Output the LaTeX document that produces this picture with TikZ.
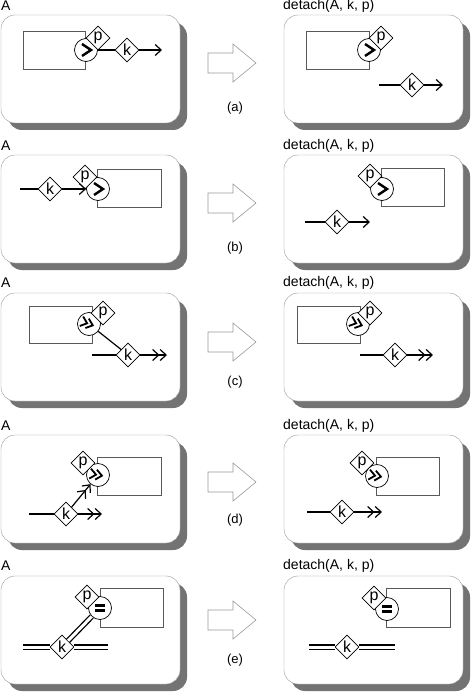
\documentclass[tikz,border=0pt]{standalone}
\usepackage{fontspec}
\setmainfont{Liberation Sans}
\usetikzlibrary{arrows.meta,shapes.geometric,shadows}

\begin{document}
\begin{tikzpicture}[x=1pt,y=-1pt,
    panel/.style={draw=gray!80,fill=white,rounded corners=14pt,minimum width=179,minimum height=108,
      drop shadow={shadow xshift=7pt,shadow yshift=-7pt,fill=black!55,opacity=1,fill opacity=1}},
    part/.style={draw=black!65,line width=0.6pt,inner sep=0pt},
    port/.style={draw,circle,fill=white,line width=0.7pt,minimum size=23,inner sep=0pt},
    keybox/.style={draw,diamond,fill=white,line width=0.7pt,minimum size=24,inner sep=0pt,font=\fontsize{16}{16}\selectfont},
    hdr/.style={anchor=west,inner sep=0pt,font=\fontsize{14}{16}\selectfont},
    caplbl/.style={inner sep=0pt,font=\fontsize{13}{15}\selectfont},
    link/.style={line width=1.2pt},
    flow/.style={link,-{Straight Barb[length=6pt,width=11pt]}},
    flow2/.style={link,-{Straight Barb[length=6pt,width=11pt]Straight Barb[length=6pt,width=11pt]}},
    dbl/.style={line width=1.3pt,double,double distance=3pt},
    sym/.style={line width=2.4pt},
    sym2/.style={line width=1.8pt},
    bigarrow/.style={draw=gray!80,fill=white,line width=0.6pt,line join=miter}
]
\useasboundingbox (0,0) rectangle (474,695);

% ---- (a) ----
\begin{scope}[shift={(0,15)}]
\node[hdr] (ta) at (1,-9) {A};
\node[hdr] (da) at (283,-9) {detach(A, k, p)};
\node[panel] (la) at (90.5,54) {};
\node[panel] (ra) at (373.5,54) {};
\draw[bigarrow] (208,38) -- (233,38) -- (233,29) -- (256,48) -- (233,67) -- (233,58) -- (208,58) -- cycle;
\node[caplbl] (sa) at (235,93) {(a)};
% before
\node[part,minimum width=62,minimum height=38] (ca) at (54,35) {};
\coordinate (a1) at (162,35);
\node[port] (pa) at (86,35) {};
\draw[sym] (82,29) -- (91,35) -- (82,41);
\node[keybox] (qa) at (98,23) {p};
\node[keybox] (ka) at (127,35) {k};
\draw[link] (pa) -- (ka);
\draw[flow] (ka) -- (a1);
% after
\node[part,minimum width=63,minimum height=38] (cA) at (337.5,35) {};
\node[port] (pA) at (369,35) {};
\draw[sym] (365,29) -- (374,35) -- (365,41);
\node[keybox] (qA) at (381,23) {p};
\coordinate (A0) at (379,70);
\coordinate (A1) at (443,70);
\node[keybox] (kA) at (412,70) {k};
\draw[link] (A0) -- (kA);
\draw[flow] (kA) -- (A1);
\end{scope}

% ---- (b) ----
\begin{scope}[shift={(0,155)}]
\node[hdr] (tb) at (1,-9) {A};
\node[hdr] (db) at (283,-9) {detach(A, k, p)};
\node[panel] (lb) at (90.5,54) {};
\node[panel] (rb) at (373.5,54) {};
\draw[bigarrow] (208,38) -- (233,38) -- (233,29) -- (256,48) -- (233,67) -- (233,58) -- (208,58) -- cycle;
\node[caplbl] (sb) at (235,93) {(b)};
% before
\node[part,minimum width=64,minimum height=38] (cb) at (129,33) {};
\node[port] (pb) at (98,34) {};
\draw[sym] (94,28) -- (103,34) -- (94,40);
\node[keybox] (qb) at (85,22) {p};
\coordinate (b0) at (20,34);
\node[keybox] (kb) at (50,34) {k};
\draw[link] (b0) -- (kb);
\draw[flow] (kb) -- (pb);
% after
\node[part,minimum width=63,minimum height=38] (cB) at (412.5,32) {};
\node[port] (pB) at (382,34) {};
\draw[sym] (378,28) -- (387,34) -- (378,40);
\node[keybox] (qB) at (370,21) {p};
\coordinate (B0) at (305,67);
\coordinate (B1) at (370,67);
\node[keybox] (kB) at (337,67) {k};
\draw[link] (B0) -- (kB);
\draw[flow] (kB) -- (B1);
\end{scope}

% ---- (c) ----
\begin{scope}[shift={(0,292)}]
\node[hdr] (tc) at (1,-9) {A};
\node[hdr] (dc) at (283,-9) {detach(A, k, p)};
\node[panel] (lc) at (90.5,55) {};
\node[panel] (rc) at (373.5,55) {};
\draw[bigarrow] (208,40) -- (233,40) -- (233,31) -- (256,50) -- (233,69) -- (233,60) -- (208,60) -- cycle;
\node[caplbl] (sc) at (235,90) {(c)};
% before
\node[part,minimum width=63,minimum height=37] (cc) at (60.5,32.5) {};
\node[port] (pc) at (89,32) {};
\draw[sym2,shift={(89,32)},rotate=-20] (-8,-5) -- (-2,0) -- (-8,5) (-2,-5) -- (4,0) -- (-2,5);
\node[keybox] (qc) at (103,21) {p};
\coordinate (c0) at (92,63);
\coordinate (c1) at (167,63);
\node[keybox] (kc) at (128,63) {k};
\draw[link] (pc) -- (kc);
\draw[link] (c0) -- (kc);
\draw[flow2] (kc) -- (c1);
% after
\node[part,minimum width=63,minimum height=37] (cC) at (328.5,32.5) {};
\node[port] (pC) at (358,32) {};
\draw[sym2,shift={(358,32)},rotate=-20] (-8,-5) -- (-2,0) -- (-8,5) (-2,-5) -- (4,0) -- (-2,5);
\node[keybox] (qC) at (370,21) {p};
\coordinate (C0) at (360,63);
\coordinate (C1) at (433,63);
\node[keybox] (kC) at (395,63) {k};
\draw[link] (C0) -- (kC);
\draw[flow2] (kC) -- (C1);
\end{scope}

% ---- (d) ----
\begin{scope}[shift={(0,435)}]
\node[hdr] (td) at (1,-9) {A};
\node[hdr] (dd) at (283,-9) {detach(A, k, p)};
\node[panel] (ld) at (90.5,54) {};
\node[panel] (rd) at (373.5,54) {};
\draw[bigarrow] (208,37) -- (233,37) -- (233,28) -- (256,47) -- (233,66) -- (233,57) -- (208,57) -- cycle;
\node[caplbl] (sd) at (235,85) {(d)};
% before
\node[part,minimum width=64,minimum height=38] (cd) at (129,41) {};
\node[port] (pd) at (98,40) {};
\draw[sym2,shift={(98,40)},rotate=-10] (-8,-5) -- (-2,0) -- (-8,5) (-2,-5) -- (4,0) -- (-2,5);
\node[keybox] (qd) at (83,28) {p};
\coordinate (d0) at (29,79);
\coordinate (d1) at (102,79);
\node[keybox] (kd) at (66,79) {k};
\draw[link] (d0) -- (kd);
\draw[flow2] (kd) -- (d1);
\draw[flow2] (kd) -- (pd);
% after
\node[part,minimum width=63,minimum height=38] (cD) at (407.5,41) {};
\node[port] (pD) at (377,41) {};
\draw[sym2,shift={(377,41)},rotate=-10] (-8,-5) -- (-2,0) -- (-8,5) (-2,-5) -- (4,0) -- (-2,5);
\node[keybox] (qD) at (362,28) {p};
\coordinate (D0) at (307,77);
\coordinate (D1) at (382,77);
\node[keybox] (kD) at (342,77) {k};
\draw[link] (D0) -- (kD);
\draw[flow2] (kD) -- (D1);
\end{scope}

% ---- (e) ----
\begin{scope}[shift={(0,575)}]
\node[hdr] (te) at (1,-9) {A};
\node[hdr] (de) at (283,-9) {detach(A, k, p)};
\node[panel] (le) at (90.5,55) {};
\node[panel] (re) at (373.5,55) {};
\draw[bigarrow] (208,35) -- (233,35) -- (233,26) -- (256,45) -- (233,64) -- (233,55) -- (208,55) -- cycle;
\node[caplbl] (se) at (235,85) {(e)};
% before
\node[part,minimum width=63,minimum height=39] (ce) at (131.5,32.5) {};
\coordinate (e0) at (23,72);
\coordinate (e1) at (108,72);
\node[keybox] (ke) at (62,72) {k};
\node[port] (pe) at (100,33) {};
\draw[dbl] (e0) -- (ke) -- (e1);
\draw[dbl] (ke) -- (pe);
\draw[sym] (95,30.5) -- (105,30.5) (95,35.5) -- (105,35.5);
\node[keybox] (qe) at (87,22) {p};
% after
\node[part,minimum width=64,minimum height=39] (cE) at (418,32.5) {};
\node[port] (pE) at (387,34) {};
\draw[sym] (382,31.5) -- (392,31.5) (382,36.5) -- (392,36.5);
\node[keybox] (qE) at (374,23) {p};
\coordinate (E0) at (309,72);
\coordinate (E1) at (395,72);
\node[keybox] (kE) at (347,72) {k};
\draw[dbl] (E0) -- (kE) -- (E1);
\end{scope}
\end{tikzpicture}
\end{document}
